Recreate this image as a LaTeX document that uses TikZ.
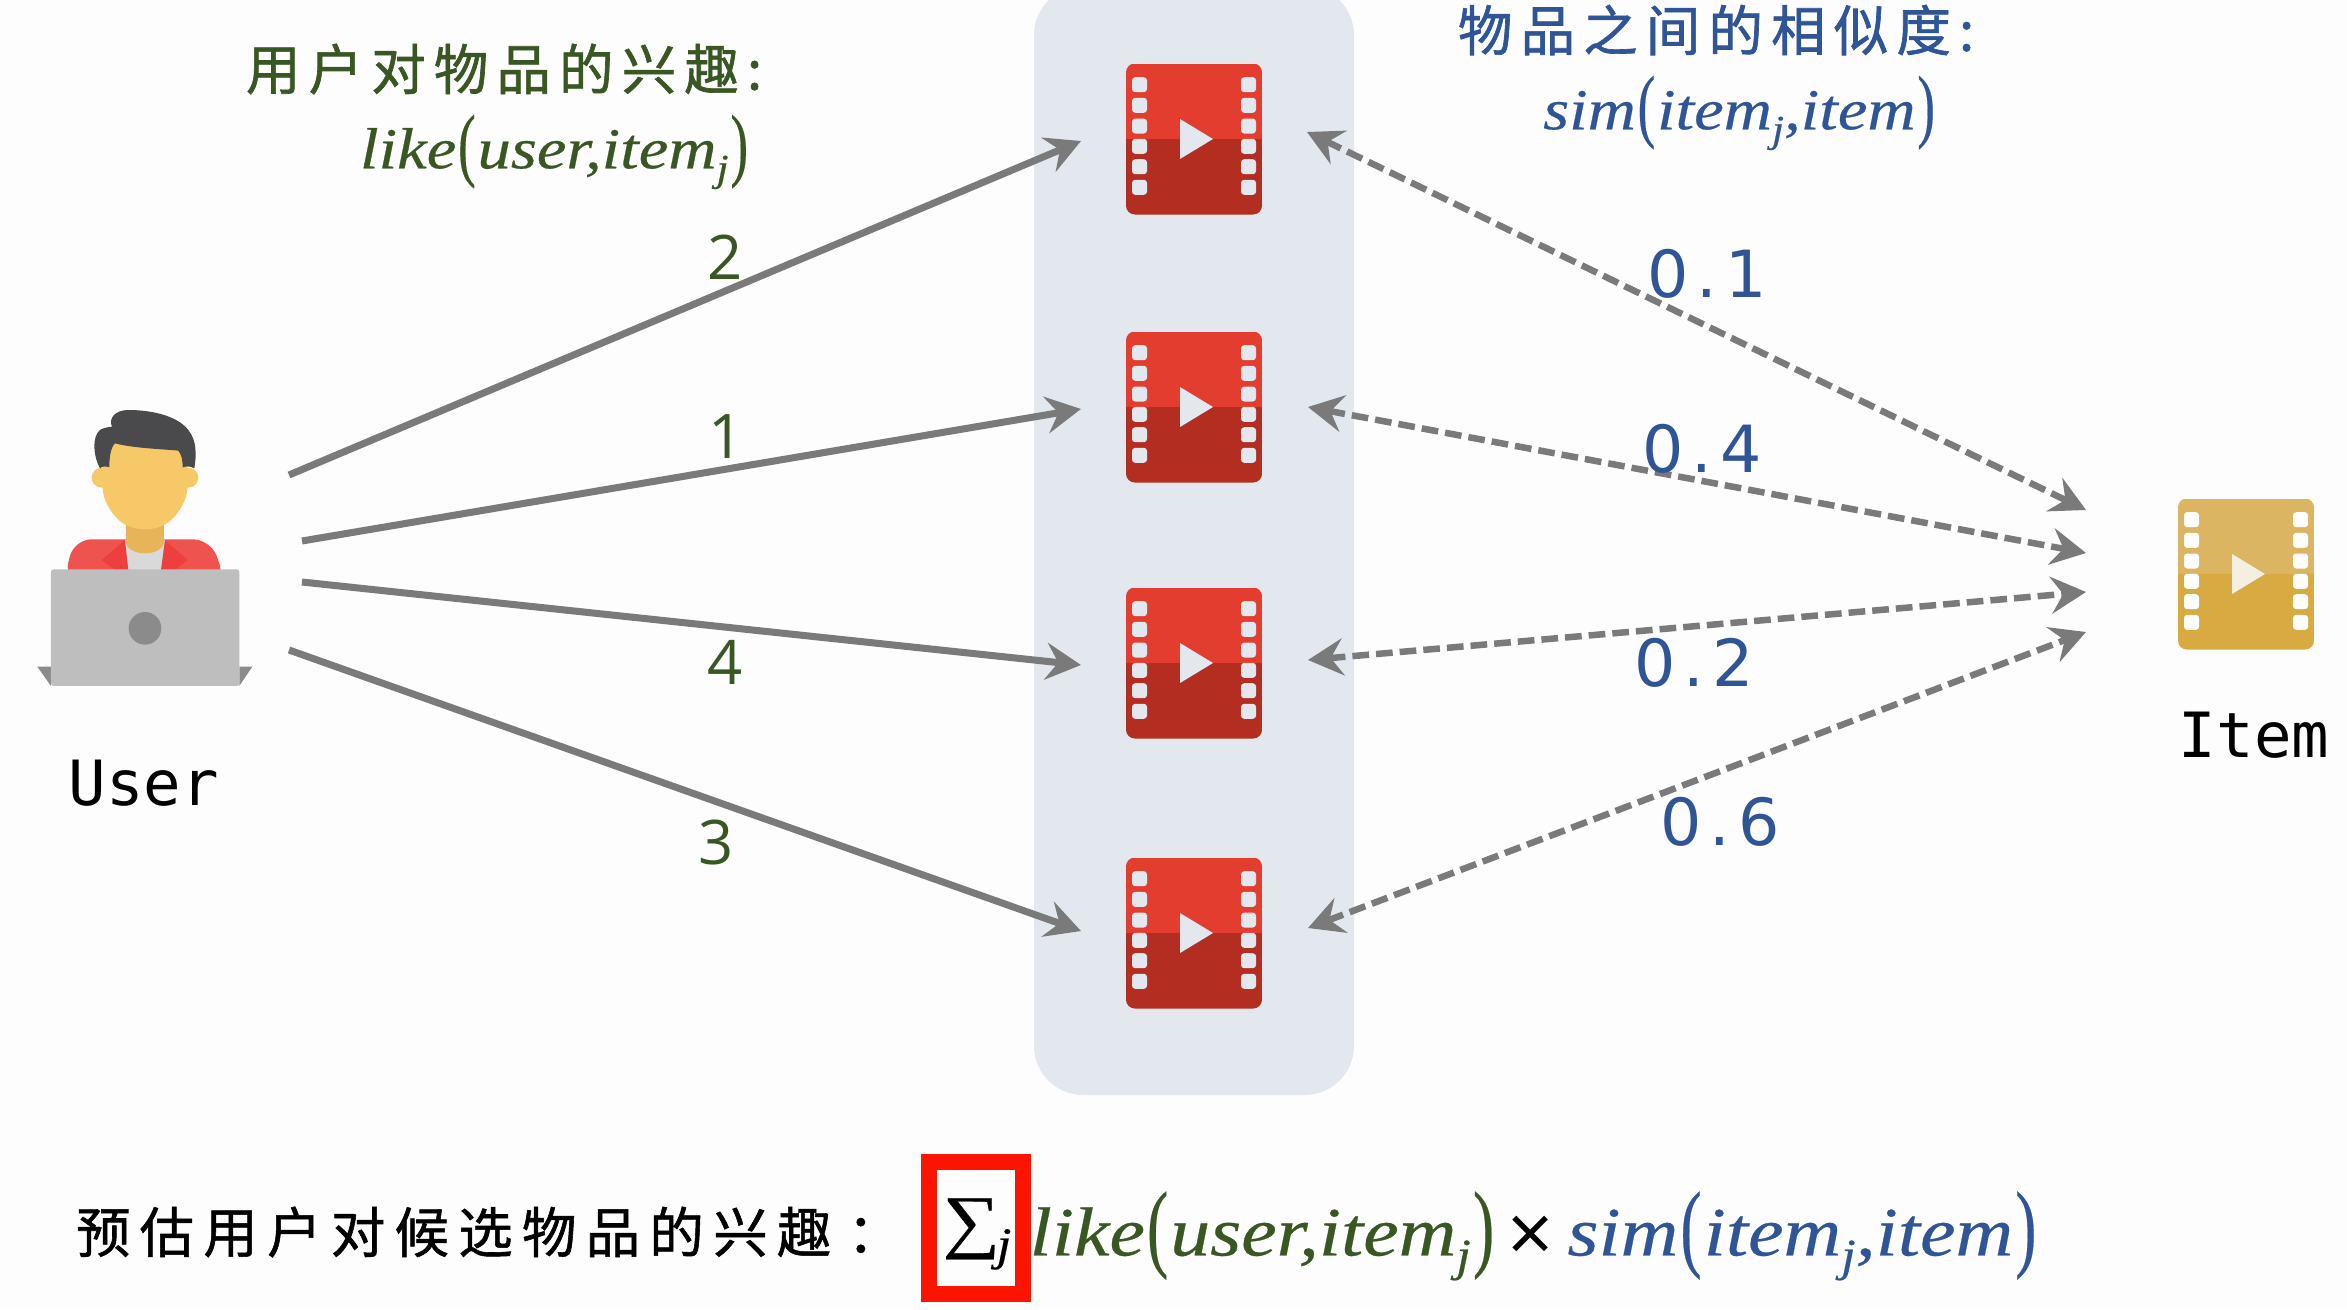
\documentclass[tikz,border=0pt]{standalone}
\usepackage{fontspec}
\usepackage{graphicx}
\usetikzlibrary{arrows.meta}
\setmainfont[FakeStretch=1.15,FakeBold=0.4]{Liberation Serif}
\newfontfamily\cjkfont[LetterSpace=15,FakeBold=1.2]{Noto Sans CJK SC}
\newfontfamily\cjkwide[LetterSpace=17,FakeBold=1.0]{Noto Sans CJK SC}
\newfontfamily\monofam{DejaVu Sans Mono}
\newfontfamily\digitfam{DejaVu Sans}
\newfontfamily\sansfam{Open Sans}
\newcommand{\fsz}[1]{\fontsize{#1}{#1}\selectfont}
\newcommand{\lpar}{\kern0.03em\raisebox{-0.05em}{\scalebox{0.8}[1.4]{\textup{(}}}\kern0.03em}
\newcommand{\rpar}{\kern0.03em\raisebox{-0.05em}{\scalebox{0.8}[1.4]{\textup{)}}}\kern0.03em}
\newcommand{\jsub}{\raisebox{-0.22em}{\fontsize{0.66em}{0.66em}\selectfont\itshape j}}
\newcommand{\likeexpr}{\itshape like\lpar user,item\jsub\rpar}
\newcommand{\simexpr}{\itshape sim\lpar item\jsub,item\rpar}
\newcommand{\spaced}[3]{\makebox[22.2pt]{#1}\makebox[22.2pt]{#2}\makebox[22.2pt]{#3}}
\definecolor{bgc}{HTML}{FEFDFE}
\definecolor{panelc}{HTML}{E3E7EE}
\definecolor{linec}{HTML}{7A7A7B}
\definecolor{greenc}{HTML}{385723}
\definecolor{bluec}{HTML}{2F5597}
\definecolor{redbox}{HTML}{FB1500}
\definecolor{filmtop}{HTML}{E33D30}
\definecolor{filmbot}{HTML}{B32D21}
\definecolor{itemtop}{HTML}{DCB562}
\definecolor{itembot}{HTML}{D8AA42}
\definecolor{itemtri}{HTML}{F5EFE2}
\definecolor{laptop}{HTML}{BFBEBF}
\definecolor{laptopd}{HTML}{8C8B8C}
\definecolor{jacket}{HTML}{EF5350}
\definecolor{lapel}{HTML}{EE3F3F}
\definecolor{shirt}{HTML}{D9D9D9}
\definecolor{neck}{HTML}{E8B45A}
\definecolor{skin}{HTML}{F7C868}
\definecolor{hair}{HTML}{4A494B}
\tikzset{
  conn/.style={line width=4pt,color=linec,-{Stealth[length=20pt,width=21pt,inset=7pt]}},
  connd/.style={line width=3.7pt,color=linec,dash pattern=on 9.5pt off 4pt,{Stealth[length=20pt,width=21pt,inset=7pt]}-{Stealth[length=20pt,width=21pt,inset=7pt]}},
  txt/.style={inner sep=0pt,outer sep=0pt,anchor=center},
  numg/.style={txt,text=greenc,font=\sansfam\fsz{35pt}},
  numb/.style={txt,text=bluec,font=\digitfam\fsz{37pt}},
  labelk/.style={txt,text=black,font=\monofam\fsz{35.5pt}},
}
% \filmicon{cx}{cy}{top}{bottom}{holes}{triangle}
\newcommand{\filmicon}[6]{%
  \begin{scope}[shift={(#1,#2)}]
    \begin{scope}
      \clip[rounded corners=5pt] (-68,-75.5) rectangle (68,75.5);
      \fill[#3] (-68,-75.5) rectangle (68,0);
      \fill[#4] (-68,0) rectangle (68,75.5);
    \end{scope}
    \foreach \yy in {-54.3,-33.7,-13,7.3,27.7,48.3}{
      \fill[#5,rounded corners=1.8pt] (-62,\yy-7.5) rectangle ++(15,15);
      \fill[#5,rounded corners=1.8pt] (47,\yy-7.5) rectangle ++(15,15);
    }
    \fill[#6] (-14,-20) -- (19,0) -- (-14,20) -- cycle;
  \end{scope}}
\begin{document}
\begin{tikzpicture}[x=0.02cm,y=-0.02cm]
\useasboundingbox (0,0) rectangle (2347,1309);
\fill[bgc] (0,0) rectangle (2347,1309);
% panel
\begin{scope}
\clip (0,0) rectangle (2347,1309);
\fill[panelc,rounded corners=28pt] (1034,-14) rectangle (1354,1095);
\end{scope}
% films
\filmicon{1194}{139}{filmtop}{filmbot}{panelc}{panelc}
\filmicon{1194}{407}{filmtop}{filmbot}{panelc}{panelc}
\filmicon{1194}{663}{filmtop}{filmbot}{panelc}{panelc}
\filmicon{1194}{933}{filmtop}{filmbot}{panelc}{panelc}
\filmicon{2246}{574}{itemtop}{itembot}{white}{itemtri}
% user icon (coordinates in thirds of a pixel)
\begin{scope}[shift={(0,380)},x=0.02cm/3,y=-0.02cm/3]
  \fill[jacket,rounded corners=10pt] (192,600) -- (222,478) -- (632,478) -- (676,600) -- cycle;
  \fill[shirt] (375,480) rectangle (495,575);
  \fill[lapel] (375,480) -- (305,540) -- (345,570) -- (385,570) -- cycle;
  \fill[lapel] (495,480) -- (563,540) -- (525,570) -- (483,570) -- cycle;
  \fill[neck] (378,420) -- (492,420) -- (492,490) .. controls (480,530) and (390,530) .. (378,490) -- cycle;
  \fill[skin] (305,293) circle[radius=30];
  \fill[skin] (565,293) circle[radius=30];
  \fill[skin] (330,180) -- (545,180) .. controls (570,260) and (570,330) .. (550,370) .. controls (520,430) and (480,448) .. (435,448) .. controls (390,448) and (350,430) .. (320,370) .. controls (300,330) and (300,260) .. (330,180) -- cycle;
  \fill[hair] (300,265) .. controls (280,230) and (275,170) .. (300,150) .. controls (312,142) and (325,142) .. (336,140) .. controls (325,115) and (345,90) .. (385,90) .. controls (450,90) and (530,105) .. (565,150) .. controls (590,180) and (590,225) .. (583,265) .. controls (570,258) and (558,258) .. (548,262) .. controls (548,240) and (545,225) .. (535,212) .. controls (500,208) and (400,205) .. (345,190) .. controls (330,205) and (328,240) .. (328,262) .. controls (318,258) and (308,258) .. (300,265) -- cycle;
  \fill[laptopd] (112,860) -- (153,860) -- (153,918) -- cycle;
  \fill[laptopd] (757,860) -- (718,860) -- (718,918) -- cycle;
  \fill[laptop,rounded corners=1.5pt] (153,568) rectangle (718,918);
  \fill[laptopd] (435,745) circle[radius=49];
\end{scope}
% connector ends
\coordinate (ua) at (289,475);
\coordinate (ub) at (302,541);
\coordinate (uc) at (302,582);
\coordinate (ud) at (289,650);
\coordinate (fla) at (1081,141);
\coordinate (flb) at (1081,409);
\coordinate (flc) at (1081,665);
\coordinate (fld) at (1081,931);
\coordinate (fra) at (1307,132);
\coordinate (frb) at (1308,407);
\coordinate (frc) at (1308,660);
\coordinate (frd) at (1308,928);
\coordinate (ia) at (2086,510);
\coordinate (ib) at (2086,553);
\coordinate (ic) at (2086,592);
\coordinate (id) at (2086,632);
\draw[conn] (ua) -- (fla);
\draw[conn] (ub) -- (flb);
\draw[conn] (uc) -- (flc);
\draw[conn] (ud) -- (fld);
\draw[connd] (fra) -- (ia);
\draw[connd] (frb) -- (ib);
\draw[connd] (frc) -- (ic);
\draw[connd] (frd) -- (id);
% labels
\node[labelk] (userlabel) at (144,783) {User};
\node[labelk] (itemlabel) at (2254,735) {Item};
\node[numg] (n2) at (725,257) {2};
\node[numg] (n1) at (726,437) {1};
\node[numg] (n4) at (725,662) {4};
\node[numg] (n3) at (716,843) {3};
\node[numb] (s1) at (1707,274) {\spaced{0}{.}{1}};
\node[numb] (s4) at (1702,449) {\spaced{0}{.}{4}};
\node[numb] (s2) at (1694,663) {\spaced{0}{.}{2}};
\node[numb] (s6) at (1720,822) {\spaced{0}{.}{6}};
% headings
\node[txt,anchor=west,text=greenc,font=\cjkfont\fsz{31pt}] (likehead) at (246,69) {用户对物品的兴趣:};
\node[txt,text=greenc,font=\fsz{33pt}] (likef) at (555,152) {\likeexpr};
\node[txt,anchor=west,text=bluec,font=\cjkfont\fsz{31pt}] (simhead) at (1458,30) {物品之间的相似度:};
\node[txt,text=bluec,font=\fsz{33pt}] (simf) at (1740,113) {\simexpr};
% bottom formula
\node[txt,anchor=west,text=black,font=\cjkwide\fsz{31pt}] (pred) at (76,1232) {预估用户对候选物品的兴趣\kern9pt：};
\draw[redbox,line width=9pt] (929,1162) rectangle (1023,1294);
\node[txt,font=\fsz{40pt}] (sumf) at (977,1234) {∑\kern-0.05em\raisebox{-0.22em}{\fontsize{0.66em}{0.66em}\selectfont\itshape j}};
\node[txt,text=greenc,font=\fsz{39.5pt}] (likeb) at (1263,1236) {\likeexpr};
\node[txt,text=black,font=\sansfam\fsz{46pt}] (times) at (1531,1239) {×};
\node[txt,text=bluec,font=\fsz{39.5pt}] (simb) at (1803,1236) {\simexpr};
\end{tikzpicture}
\end{document}
